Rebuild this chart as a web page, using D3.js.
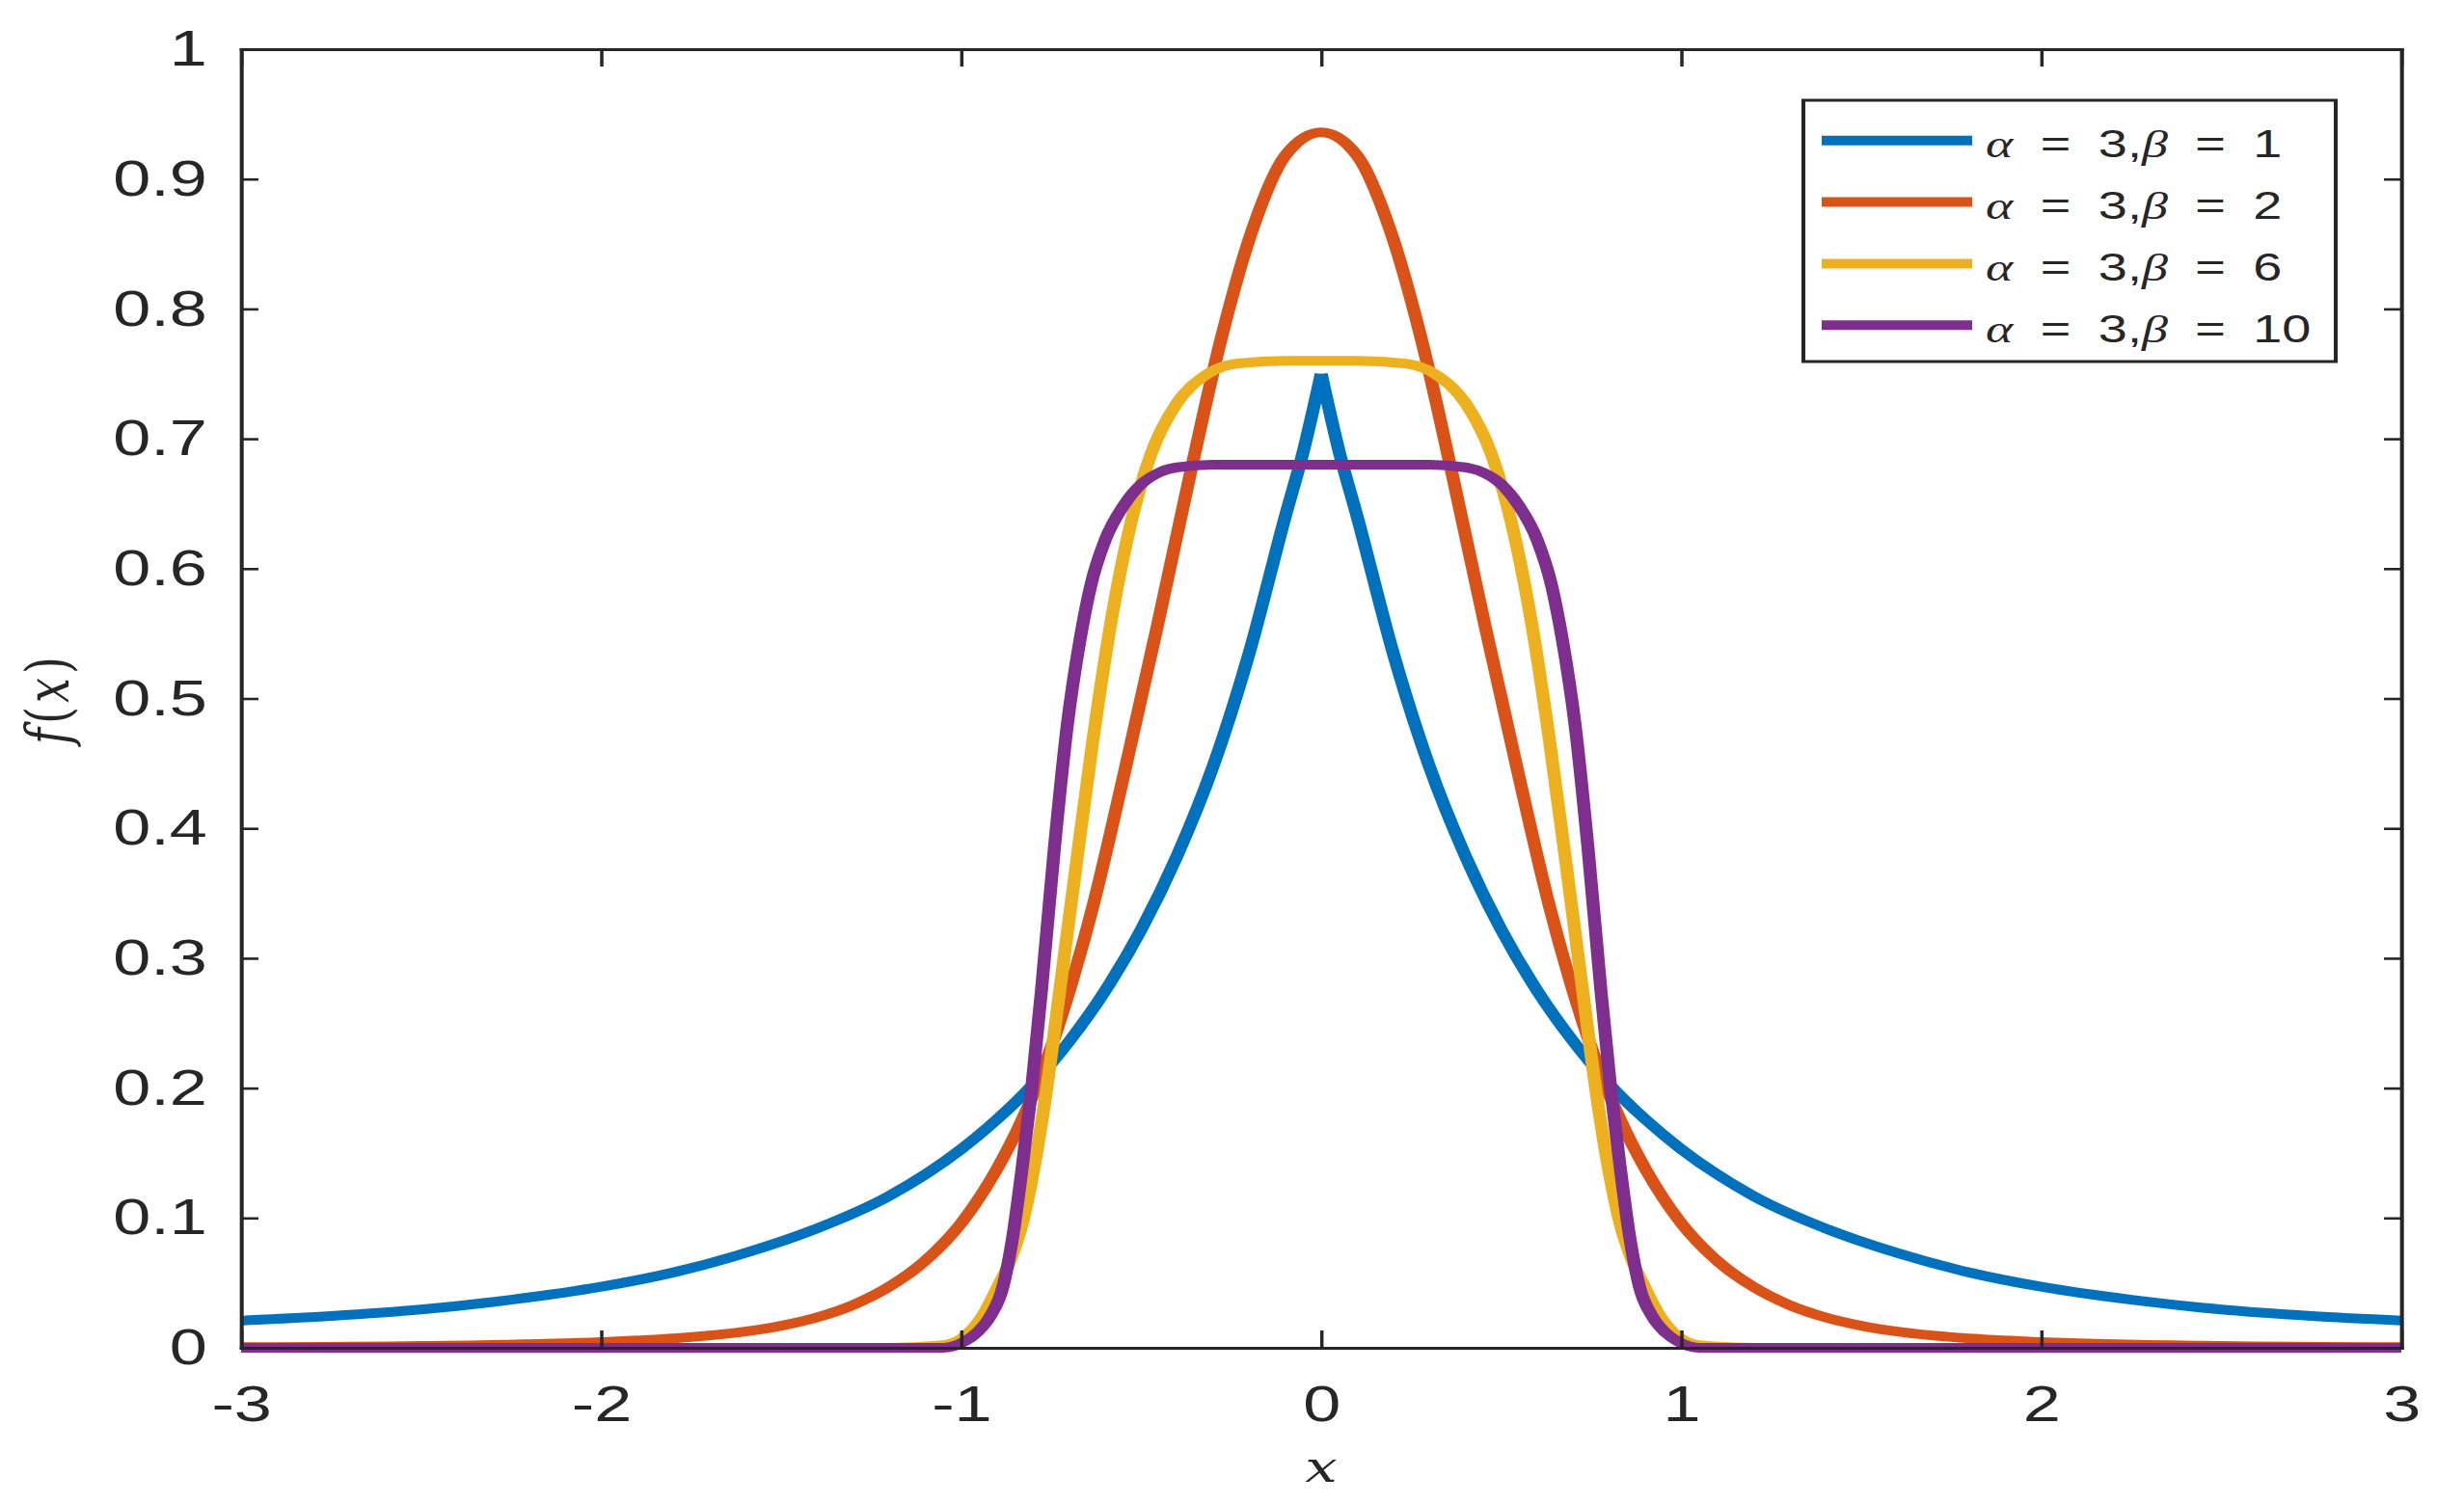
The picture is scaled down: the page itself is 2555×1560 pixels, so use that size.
<!DOCTYPE html>
<html lang="en">
<head>
    <meta charset="UTF-8">
    <title>f(x) curves</title>
    <style>
        body {
            margin: 0;
            background: #ffffff;
        }
        .tick text {
            font-family: "Liberation Sans", Arial, sans-serif;
            font-size: 52px;
            fill: #262626;
        }
    </style>
</head>
<body>
    <div class="vis"><svg></svg></div>
    <script src="https://cdnjs.cloudflare.com/ajax/libs/d3/7.8.5/d3.min.js"></script>
    <script>
        var xTicks = [-3, -2, -1, 0, 1, 2, 3];
        var yTicks = [0, 0.1, 0.2, 0.3, 0.4, 0.5, 0.6, 0.7, 0.8, 0.9, 1];

        var alphas = [3, 3, 3, 3];
        var betas = [1, 2, 6, 10];
        var colors = ['#0072BD', '#D95319', '#EDB120', '#7E2F8E'];
        var sharpPeak = [true, false, false, false];

        // values
        var xBeta1 = [-3, -2.75, -2.5, -2.25, -2, -1.8, -1.6, -1.4, -1.2, -1, -0.9, -0.8, -0.7, -0.6, -0.5, -0.4, -0.3, -0.2, -0.1, -0.05, 0,
            0.05, 0.1, 0.2, 0.3, 0.4, 0.5, 0.6, 0.7, 0.8, 0.9, 1, 1.2, 1.4, 1.6, 1.8, 2, 2.25, 2.5, 2.75, 3];
        var yBeta1 = [0.021, 0.0245, 0.0295, 0.037, 0.047, 0.058, 0.073, 0.092, 0.117, 0.153, 0.176, 0.203, 0.236, 0.275, 0.322, 0.379, 0.448, 0.535, 0.64, 0.69, 0.75,
            0.69, 0.64, 0.535, 0.448, 0.379, 0.322, 0.275, 0.236, 0.203, 0.176, 0.153, 0.117, 0.092, 0.073, 0.058, 0.047, 0.037, 0.0295, 0.0245, 0.021];

        var xBeta2 = [-3, -2.5, -2, -1.8, -1.6, -1.5, -1.4, -1.3, -1.2, -1.1, -1, -0.9, -0.83, -0.77, -0.705, -0.634, -0.545, -0.455, -0.366, -0.277, -0.19, -0.1, 0,
            0.1, 0.19, 0.277, 0.366, 0.455, 0.545, 0.634, 0.705, 0.77, 0.83, 0.9, 1, 1.1, 1.2, 1.3, 1.4, 1.5, 1.6, 1.8, 2, 2.5, 3];
        var yBeta2 = [0.0005, 0.0015, 0.0045, 0.0072, 0.0125, 0.017, 0.0235, 0.033, 0.047, 0.067, 0.096, 0.138, 0.176, 0.216, 0.27, 0.34, 0.445, 0.556, 0.67, 0.778, 0.862, 0.918, 0.936,
            0.918, 0.862, 0.778, 0.67, 0.556, 0.445, 0.34, 0.27, 0.216, 0.176, 0.138, 0.096, 0.067, 0.047, 0.033, 0.0235, 0.017, 0.0125, 0.0072, 0.0045, 0.0015, 0.0005];

        var xBeta6 = [-3, -1.2, -1.05, -0.99, -0.94, -0.9, -0.86, -0.83, -0.8, -0.768, -0.723, -0.679, -0.634, -0.58, -0.527, -0.473, -0.402, -0.321, -0.232, -0.1, 0,
            0.1, 0.232, 0.321, 0.402, 0.473, 0.527, 0.58, 0.634, 0.679, 0.723, 0.768, 0.8, 0.83, 0.86, 0.9, 0.94, 0.99, 1.05, 1.2, 3];
        var yBeta6 = [0, 0, 0.002, 0.009, 0.025, 0.046, 0.07, 0.096, 0.135, 0.189, 0.282, 0.375, 0.468, 0.565, 0.637, 0.688, 0.727, 0.749, 0.758, 0.760, 0.760,
            0.760, 0.758, 0.749, 0.727, 0.688, 0.637, 0.565, 0.468, 0.375, 0.282, 0.189, 0.135, 0.096, 0.07, 0.046, 0.025, 0.009, 0.002, 0, 0];

        var xBeta10 = [-3, -1.05, -0.99, -0.955, -0.92, -0.884, -0.857, -0.83, -0.804, -0.777, -0.741, -0.705, -0.67, -0.64, -0.6, -0.55, -0.5, -0.45, -0.4, -0.3, 0,
            0.3, 0.4, 0.45, 0.5, 0.55, 0.6, 0.64, 0.67, 0.705, 0.741, 0.777, 0.804, 0.83, 0.857, 0.884, 0.92, 0.955, 0.99, 1.05, 3];
        var yBeta10 = [0, 0, 0.005, 0.012, 0.024, 0.047, 0.085, 0.14, 0.2, 0.275, 0.385, 0.48, 0.545, 0.587, 0.622, 0.648, 0.665, 0.674, 0.678, 0.68, 0.68,
            0.68, 0.678, 0.674, 0.665, 0.648, 0.622, 0.587, 0.545, 0.48, 0.385, 0.275, 0.2, 0.14, 0.085, 0.047, 0.024, 0.012, 0.005, 0, 0];

        var seriesX = [xBeta1, xBeta2, xBeta6, xBeta10];
        var seriesY = [yBeta1, yBeta2, yBeta6, yBeta10];

        // the picture is stretched sideways, so draw in a narrower box and let the viewBox widen it
        var W = 2555, H = 1560, SX = 1.35;
        var VW = W / SX;
        var ink = '#262626';

        var svg = d3.select('.vis svg')
            .attr('width', W)
            .attr('height', H)
            .attr('viewBox', `0 0 ${VW} ${H}`)
            .attr('preserveAspectRatio', 'none');

        var plotL = 250 / SX, plotR = 2490 / SX, plotT = 51, plotB = 1398;

        var xScale = d3.scaleLinear().domain([-3, 3]).range([plotL, plotR]);
        var yScale = d3.scaleLinear().domain([0, 1]).range([plotB, plotT]);

        var line = d3.line()
            .x(d => xScale(d[0]))
            .y(d => yScale(d[1]))
            .curve(d3.curveMonotoneX);

        var curves = svg.append('g').attr('class', 'curves');
        seriesX.forEach(function (xs, k) {
            var pts = xs.map((v, i) => [v, seriesY[k][i]]);
            var parts = [pts];
            if (sharpPeak[k]) {
                var m = d3.maxIndex(pts, d => d[1]);
                parts = [pts.slice(0, m + 1), pts.slice(m)];
            }
            parts.forEach(function (p) {
                curves.append('path')
                    .attr('d', line(p))
                    .attr('fill', 'none')
                    .attr('stroke', colors[k])
                    .attr('stroke-width', 10)
                    .attr('stroke-linejoin', 'round');
            });
        });

        // axes on all four sides, ticks pointing in
        var gBottom = svg.append('g')
            .attr('transform', `translate(0,${plotB})`)
            .call(d3.axisBottom(xScale).tickValues(xTicks).tickSizeInner(-18).tickSizeOuter(0)
                .tickPadding(39).tickFormat(d => String(d)));
        var gTop = svg.append('g')
            .attr('transform', `translate(0,${plotT})`)
            .call(d3.axisTop(xScale).tickValues(xTicks).tickSizeInner(-18).tickSizeOuter(0).tickFormat(''));
        var gLeft = svg.append('g')
            .attr('transform', `translate(${plotL},0)`)
            .call(d3.axisLeft(yScale).tickValues(yTicks).tickSizeInner(-13.3).tickSizeOuter(0)
                .tickPadding(26).tickFormat(d => String(d)));
        var gRight = svg.append('g')
            .attr('transform', `translate(${plotR},0)`)
            .call(d3.axisRight(yScale).tickValues(yTicks).tickSizeInner(-13.3).tickSizeOuter(0).tickFormat(''));

        [gBottom, gTop, gLeft, gRight].forEach(function (g) {
            g.attr('font-family', null).attr('font-size', null);
            g.select('.domain').attr('stroke', ink).attr('stroke-width', 3).attr('stroke-linecap', 'square');
            g.selectAll('.tick line').attr('stroke', ink).attr('stroke-width', 2.6);
        });

        // axis labels
        svg.append('text')
            .attr('x', xScale(0))
            .attr('y', 1537)
            .attr('text-anchor', 'middle')
            .style('font-family', '"DejaVu Serif", serif')
            .style('font-style', 'italic')
            .style('font-size', '44px')
            .attr('fill', ink)
            .text('x');

        var yLab = svg.append('text')
            .attr('transform', `translate(${71 / SX},${yScale(0.5)}) rotate(-90)`)
            .attr('text-anchor', 'middle')
            .style('font-family', '"DejaVu Serif", serif')
            .style('font-size', '46px')
            .style('letter-spacing', '4px')
            .attr('fill', ink);
        yLab.append('tspan').style('font-style', 'italic').text('f');
        yLab.append('tspan').text('(');
        yLab.append('tspan').style('font-style', 'italic').text('x');
        yLab.append('tspan').text(')');

        // legend
        var legX0 = 1870 / SX, legX1 = 2422 / SX, legY0 = 104, legY1 = 375;
        var legend = svg.append('g').attr('class', 'legend');
        legend.append('rect')
            .attr('x', legX0).attr('y', legY0)
            .attr('width', legX1 - legX0).attr('height', legY1 - legY0)
            .attr('fill', '#ffffff')
            .attr('stroke', ink)
            .attr('stroke-width', 3);

        var rowY = d3.scalePoint().domain(d3.range(betas.length)).range([145.7, 337.3]);

        betas.forEach(function (b, i) {
            var yy = rowY(i);
            legend.append('line')
                .attr('x1', 1889 / SX).attr('x2', 2045 / SX)
                .attr('y1', yy).attr('y2', yy)
                .attr('stroke', colors[i])
                .attr('stroke-width', 10);
            var t = legend.append('text')
                .attr('x', 2059 / SX)
                .attr('y', yy + 17.6)
                .style('white-space', 'pre')
                .style('word-spacing', '10px')
                .style('font-family', '"Liberation Sans", Arial, sans-serif')
                .style('font-size', '40px')
                .attr('fill', ink);
            t.append('tspan').style('font-family', '"Liberation Serif", serif').style('font-style', 'italic').text('\u03b1');
            t.append('tspan').text(` = ${alphas[i]},`);
            t.append('tspan').style('font-family', '"Liberation Serif", serif').style('font-style', 'italic').text('\u03b2');
            t.append('tspan').text(` = ${b}`);
        });
    </script>
</body>
</html>
